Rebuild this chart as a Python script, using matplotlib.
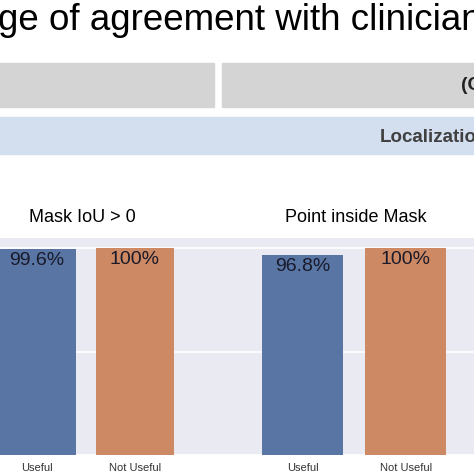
import matplotlib.pyplot as plt
from matplotlib.patches import Rectangle

categorias = ["Useful", "Not Useful"]
mask_iou = [99.6, 100]
point_mask = [96.8, 100]
rotulos_iou = ["99.6%", "100%"]
rotulos_point = ["96.8%", "100%"]
cores = ["#5875a4", "#cc8963"]

W = H = 474.0
fig = plt.figure(figsize=(4.74, 4.74), dpi=100)
plt.rcParams['font.family'] = ['Liberation Sans', 'DejaVu Sans']


def fx(px):
    return px / W


def fy(py):
    return 1 - py / H


# titulo cortado
fig.text(fx(-2), fy(20), "ge of agreement with clinicians", fontsize=26.5, va='center', ha='left')

# caixas cinzas e faixa azul
fig.patches.append(Rectangle((fx(-10), fy(107)), fx(224), 44 / H, transform=fig.transFigure,
                             color="#d4d4d4", zorder=0))
fig.patches.append(Rectangle((fx(222), fy(107)), fx(270), 44 / H, transform=fig.transFigure,
                             color="#d4d4d4", zorder=0))
fig.text(fx(461), fy(86), "(C", fontsize=14, weight='bold', va='center', color="#222222")
fig.patches.append(Rectangle((fx(-10), fy(154)), fx(500), 37 / H, transform=fig.transFigure,
                             color="#d3deef", zorder=0))
fig.text(fx(380), fy(137), "Localization", fontsize=13.5, weight='bold', va='center', color="#404040")


def painel(left_px, right_px, xlim, valores, rotulos, titulo, titulo_x):
    ax = fig.add_axes([fx(left_px), fy(455), fx(right_px - left_px), (455 - 238) / H])
    ax.set_facecolor("#eaeaf2")
    ax.bar(range(len(valores)), valores, width=0.79, color=cores, zorder=2)
    ax.set_xlim(*xlim)
    ax.set_ylim(0, 105)
    ax.set_yticks([0, 50, 100])
    ax.yaxis.grid(True, color="white", lw=1.2, zorder=1)
    ax.tick_params(length=0, labelleft=False, pad=6)
    ax.set_xticks(range(len(valores)))
    ax.set_xticklabels(categorias, fontsize=8, color="#333333")
    for s in ax.spines.values():
        s.set_visible(False)
    for i, (v, r) in enumerate(zip(valores, rotulos)):
        ax.text(i, v - 1.5, r, ha='center', va='top', fontsize=14, color="#1a1a2a", zorder=3)
    fig.text(fx(titulo_x), fy(218), titulo, fontsize=13, ha='center', va='center')
    return ax


painel(-12, 178, (-0.5, 1.44), mask_iou, rotulos_iou, "Mask IoU > 0", 82)
painel(178, 490, (-1.21, 1.82), point_mask, rotulos_point, "Point inside Mask", 356)

fig.savefig("out.png", dpi=100)
